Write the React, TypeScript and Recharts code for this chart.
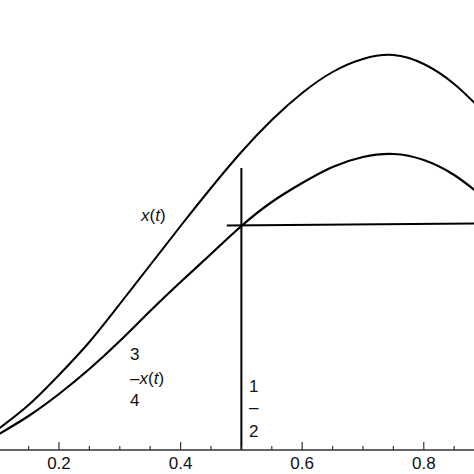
import { LineChart, Line, XAxis, YAxis, ReferenceLine } from "recharts";

// sample times and curve heights
const tValues = [0.1, 0.15, 0.2, 0.25, 0.3, 0.35, 0.4, 0.45, 0.5, 0.55, 0.6, 0.65, 0.7, 0.75, 0.8, 0.85, 0.9];
const xValues = [21, 45, 75, 108, 146, 185, 224, 262, 298, 330, 357, 378, 391, 395, 386, 366, 337];
const threeQuarterX = [15.5, 34, 56, 81, 109, 139, 168, 196, 224, 248, 267, 283, 293, 296, 290, 275, 252];

const majorTicks = [0.2, 0.4, 0.6, 0.8];
const allTicks = [0.15, 0.2, 0.25, 0.3, 0.35, 0.4, 0.45, 0.5, 0.55, 0.6, 0.65, 0.7, 0.75, 0.8, 0.85];

const halfT = 0.5;
const crossLevel = 225;

const data = tValues.map((t, i) => ({ t, x: xValues[i], x34: threeQuarterX[i] }));

const FONT = "'Liberation Sans', Arial, sans-serif";

function Tick(props: any) {
  const { x, y, payload } = props;
  const v = payload.value;
  const major = majorTicks.some((m) => Math.abs(m - v) < 1e-6);
  return (
    <g>
      <line x1={x} x2={x} y1={y} y2={y - (major ? 8 : 4)} stroke="#333" strokeWidth={1.2} />
      {major && (
        <text x={x} y={y + 19} textAnchor="middle" fontSize={17} fontFamily={FONT} fill="#111">
          {v.toFixed(1)}
        </text>
      )}
    </g>
  );
}

export default function App() {
  return (
    <div style={{ position: "absolute", left: 0, top: 0, width: 474, height: 474, background: "#fff" }}>
      <LineChart width={474} height={474} data={data} margin={{ top: 0, right: 0, bottom: 0, left: 0 }}>
        <XAxis
          dataKey="t"
          type="number"
          domain={[0.103, 0.8826]}
          allowDataOverflow
          ticks={allTicks}
          interval={0}
          height={24}
          tickLine={false}
          tickSize={0}
          tickMargin={0}
          tick={<Tick />}
          axisLine={{ stroke: "#333", strokeWidth: 1.5 }}
        />
        <YAxis hide domain={[0, 450]} allowDataOverflow />
        <Line dataKey="x" type="natural" stroke="#000" strokeWidth={2} dot={false} isAnimationActive={false} />
        <Line dataKey="x34" type="natural" stroke="#000" strokeWidth={2.2} dot={false} isAnimationActive={false} />
        <ReferenceLine
          segment={[{ x: halfT, y: 0 }, { x: halfT, y: 282 }]}
          stroke="#000"
          strokeWidth={2}
          ifOverflow="visible"
        />
        <ReferenceLine
          segment={[{ x: 0.476, y: crossLevel - 0.5 }, { x: 0.8826, y: crossLevel + 1.5 }]}
          stroke="#000"
          strokeWidth={1.8}
          ifOverflow="visible"
        />
      </LineChart>
      <svg
        width={474}
        height={474}
        style={{ position: "absolute", left: 0, top: 0, pointerEvents: "none" }}
        fontFamily={FONT}
        fill="#111"
      >
        <text x={141} y={221} fontSize={17}>
          <tspan fontStyle="italic">x</tspan>(<tspan fontStyle="italic">t</tspan>)
        </text>
        <text x={130} y={360} fontSize={17}>3</text>
        <text x={130} y={384} fontSize={17}>
          –<tspan fontStyle="italic">x</tspan>(<tspan fontStyle="italic">t</tspan>)
        </text>
        <text x={130} y={406} fontSize={17}>4</text>
        <text x={249} y={392} fontSize={17}>1</text>
        <text x={249} y={413} fontSize={17}>–</text>
        <text x={249} y={437} fontSize={17}>2</text>
      </svg>
    </div>
  );
}
